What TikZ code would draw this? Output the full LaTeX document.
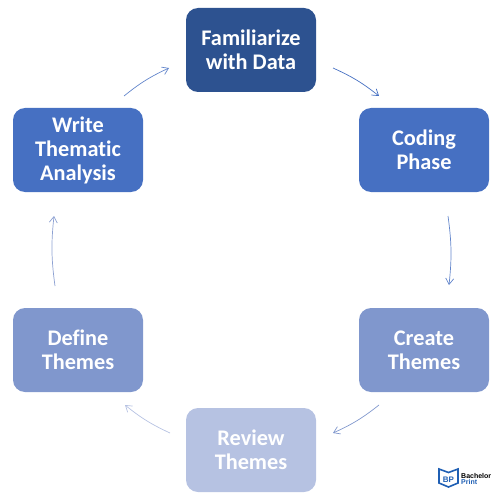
\documentclass[tikz,border=0pt]{standalone}
\usepackage{fontspec}
\setmainfont{Carlito}[Ligatures=NoCommon]
\newfontfamily\logofont{Liberation Sans}
\usetikzlibrary{arrows.meta}
\definecolor{cTop}{HTML}{2D5290}
\definecolor{cMid}{HTML}{4670C2}
\definecolor{cLight}{HTML}{8097CD}
\definecolor{cPale}{HTML}{B6C2E2}
\definecolor{logoBlue}{HTML}{1F5FB4}
\tikzset{
  x=1pt,y=-1pt,
  stage/.style={fill=#1,draw=none,rounded corners=12pt,minimum width=130pt,minimum height=84pt,
    inner sep=0pt,align=center,text=white,font=\fontsize{22.3}{24}\selectfont\bfseries},
  link/.style={draw=#1,line width=0.7pt,-{Straight Barb[length=6pt,width=8pt,line width=0.7pt]}},
}
\begin{document}
\begin{tikzpicture}
\useasboundingbox (0,0) rectangle (500,500);
\node[stage=cTop] (fam) at (251,50) {Familiarize\\with Data};
\node[stage=cMid] (cod) at (424,150) {Coding\\Phase};
\node[stage=cLight] (cre) at (424,350) {Create\\Themes};
\node[stage=cPale] (rev) at (251,450) {Review\\Themes};
\node[stage=cLight] (def) at (78,350) {Define\\Themes};
\node[stage=cMid] (wri) at (78,150) {Write\\Thematic\\Analysis};
\coordinate (a1s) at (333,68); \coordinate (a1e) at (379,96);
\coordinate (a2s) at (448,216); \coordinate (a2e) at (449,285);
\coordinate (a3s) at (379,405); \coordinate (a3e) at (333,433);
\coordinate (a4s) at (170,433); \coordinate (a4e) at (125,405);
\coordinate (a5s) at (55,286); \coordinate (a5e) at (54,216);
\coordinate (a6s) at (124,96); \coordinate (a6e) at (169,68);
\draw[link=cMid] (a1s) to[bend left=7] (a1e);
\draw[link=cMid!85!white] (a2s) to[bend left=7] (a2e);
\draw[link=cLight] (a3s) to[bend left=7] (a3e);
\draw[link=cPale] (a4s) to[bend left=7] (a4e);
\draw[link=cLight!90!white] (a5s) to[bend left=7] (a5e);
\draw[link=cMid!85!white] (a6s) to[bend left=7] (a6e);
% logo
\draw[logoBlue,line width=1.6pt,line join=miter] (439,469) -- (448.5,472.5) -- (458,469) -- (458,483) -- (448.5,487) -- (439,483) -- cycle;
\node[inner sep=0pt,text=logoBlue,font=\logofont\fontsize{8}{8}\selectfont\bfseries] (lg0) at (448.5,479.5) {BP};
\node[anchor=west,inner sep=0pt,text=black,font=\logofont\fontsize{7}{7}\selectfont\bfseries] (lg1) at (461,475.5) {Bachelor};
\node[anchor=west,inner sep=0pt,text=logoBlue,font=\logofont\fontsize{7}{7}\selectfont\bfseries] (lg2) at (461,482) {Print};
\end{tikzpicture}
\end{document}
